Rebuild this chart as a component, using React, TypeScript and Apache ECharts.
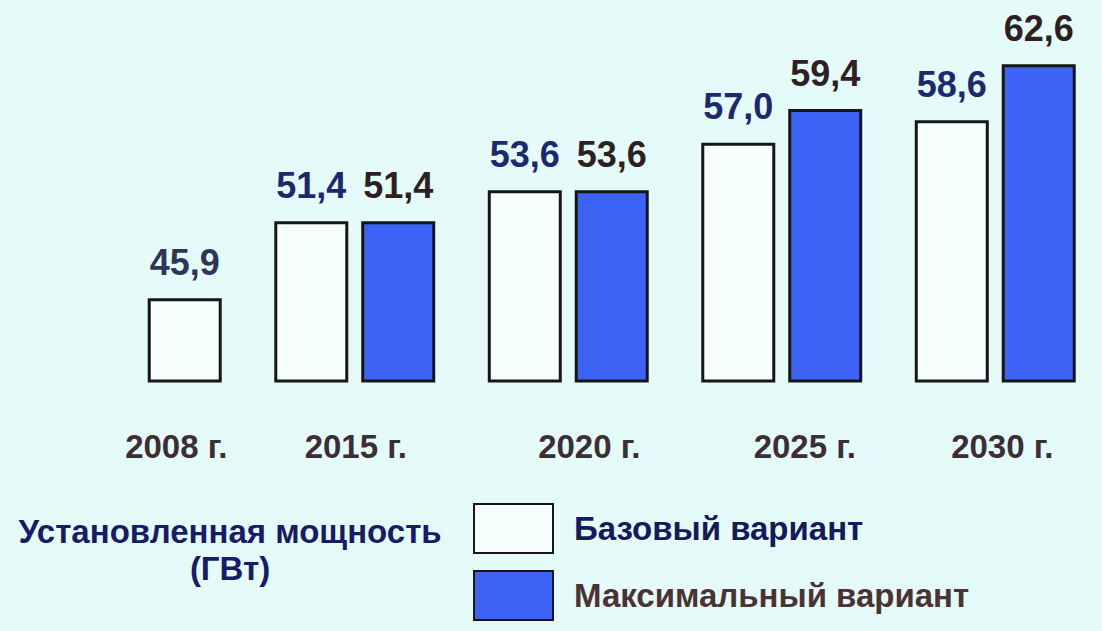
import React, { useEffect, useRef } from 'react';
import * as echarts from 'echarts';

// installed capacity, GW
const categories = ['2008 г.', '2015 г.', '2020 г.', '2025 г.', '2030 г.'];
// 2008 is the actual value; the slide draws it alone in the right-hand slot
const baseValues = [null, 51.4, 53.6, 57.0, 58.6];
const maxValues = [45.9, 51.4, 53.6, 59.4, 62.6];
const actualIndex = 0;

const seriesNames = ['Базовый вариант', 'Максимальный вариант'];
const axisTitle = 'Установленная мощность\n(ГВт)';

// horizontal nudges of the year labels, px
const yearLabelShift = [35, 1, 21, 23, 7];

const FONT = '"Liberation Sans", Arial, sans-serif';
const fmt = (v: number) => v.toFixed(1).replace('.', ',');

const App: React.FC = () => {
    const chartRef = useRef<HTMLDivElement>(null);

    useEffect(() => {
        if (!chartRef.current) return;
        const myChart = echarts.init(chartRef.current, null, { renderer: 'svg' });

        const valueLabel = (color: string) => ({
            show: true,
            position: 'top',
            distance: 18,
            fontFamily: FONT,
            fontWeight: 'bold',
            fontSize: 36,
            color,
            formatter: (p: any) => fmt(p.value)
        });

        const option = {
            animation: false,
            backgroundColor: '#E5FBF9',
            grid: { left: 34.5, right: -6.5, top: 30.5, bottom: 250 },
            xAxis: {
                type: 'category',
                data: categories.map((c, i) => ({
                    value: c,
                    textStyle: { padding: [0, 0, 0, yearLabelShift[i] * 2] }
                })),
                axisLine: { show: false },
                axisTick: { show: false },
                axisLabel: {
                    margin: 49,
                    fontFamily: FONT,
                    fontWeight: 'bold',
                    fontSize: 33,
                    lineHeight: 33,
                    color: '#3B2E34'
                }
            },
            yAxis: {
                type: 'value',
                min: 40,
                max: 65,
                show: false,
                splitLine: { show: false }
            },
            legend: {
                orient: 'vertical',
                left: 473,
                top: 503,
                padding: 0,
                itemWidth: 79,
                itemHeight: 49,
                itemGap: 16,
                icon: 'rect',
                textStyle: {
                    fontFamily: FONT,
                    fontWeight: 'bold',
                    fontSize: 33,
                    padding: [0, 0, 0, 16]
                },
                data: [
                    { name: seriesNames[0], textStyle: { color: '#141A5C' } },
                    { name: seriesNames[1], textStyle: { color: '#4A3334' } }
                ]
            },
            graphic: [
                {
                    type: 'text',
                    x: 230,
                    y: 513,
                    style: {
                        text: axisTitle,
                        align: 'center',
                        verticalAlign: 'top',
                        fontFamily: FONT,
                        fontWeight: 'bold',
                        fontSize: 33,
                        lineHeight: 37,
                        fill: '#161C68'
                    }
                }
            ],
            series: [
                {
                    name: seriesNames[0],
                    type: 'bar',
                    data: baseValues,
                    barWidth: 74,
                    barGap: '17.5%',
                    itemStyle: { color: '#F6FFFE', borderColor: '#161616', borderWidth: 3 },
                    label: valueLabel('#1C2870')
                },
                {
                    name: seriesNames[1],
                    type: 'bar',
                    data: maxValues.map((v, i) =>
                        i === actualIndex
                            ? {
                                  value: v,
                                  itemStyle: { color: '#F6FFFE' },
                                  label: { color: '#2F355A' }
                              }
                            : v
                    ),
                    barWidth: 74,
                    itemStyle: { color: '#3C63F5', borderColor: '#161616', borderWidth: 3 },
                    label: valueLabel('#2E1F22')
                }
            ]
        };

        myChart.setOption(option);

        return () => {
            myChart.dispose();
        };
    }, []);

    return (
        <div
            ref={chartRef}
            style={{ position: 'fixed', left: 0, top: 0, width: '1102px', height: '631px' }}
        />
    );
};

export default App;
